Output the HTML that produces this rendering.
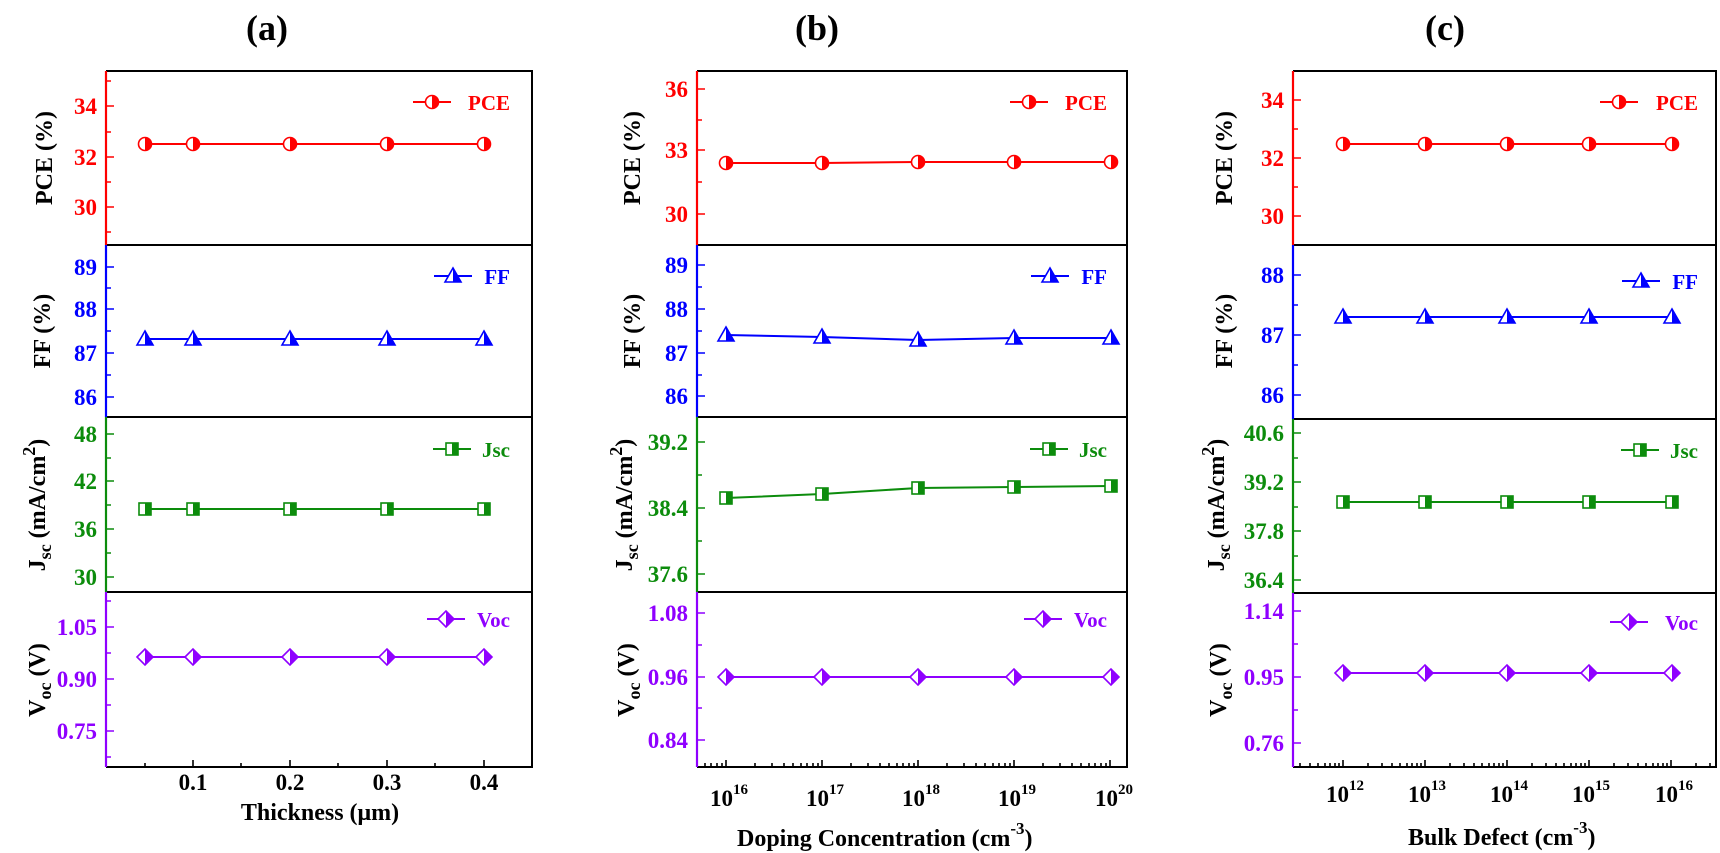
<!DOCTYPE html>
<html><head><meta charset="utf-8"><style>
html,body{margin:0;padding:0;background:#fff;}
svg{display:block;font-family:"Liberation Serif",serif;font-weight:bold;}
</style></head><body>
<svg width="1720" height="853" viewBox="0 0 1720 853" xmlns="http://www.w3.org/2000/svg">
<defs>
<g id="mc"><circle r="6.5" fill="#fff" stroke="currentColor" stroke-width="1.6"/><path d="M0,-6.5A6.5,6.5 0 0 1 0,6.5Z" fill="currentColor"/></g>
<g id="mt"><path d="M-8,6L0,-8L8,6Z" fill="#fff" stroke="currentColor" stroke-width="1.6"/><path d="M0,-8L8,6L0,6Z" fill="currentColor"/></g>
<g id="ms"><rect x="-6" y="-6" width="12" height="12" fill="#fff" stroke="currentColor" stroke-width="1.6"/><rect x="0" y="-6" width="6" height="12" fill="currentColor"/></g>
<g id="md"><path d="M-8,0L0,-8L8,0L0,8Z" fill="#fff" stroke="currentColor" stroke-width="1.6"/><path d="M0,-8L8,0L0,8Z" fill="currentColor"/></g>
<g id="decB" stroke="#000" stroke-width="1.6"><path d="M29,0v-4M46,0v-4M58,0v-4M67,0v-4M75,0v-4M81,0v-4M87,0v-4M92,0v-4M96,0v-7"/></g>
<g id="decC" stroke="#000" stroke-width="1.6"><path d="M25,0v-4M39,0v-4M49,0v-4M57,0v-4M64,0v-4M69,0v-4M74,0v-4M78,0v-4M82,0v-7"/></g>
<clipPath id="cb"><rect x="698" y="700" width="428" height="80"/></clipPath>
<clipPath id="cc"><rect x="1294" y="700" width="421" height="80"/></clipPath>
</defs>

<!-- titles -->
<text x="267" y="40" font-size="36" text-anchor="middle">(a)</text>
<text x="817" y="40" font-size="36" text-anchor="middle">(b)</text>
<text x="1445" y="40" font-size="36" text-anchor="middle">(c)</text>

<!-- ================= PANEL A ================= -->
<g fill="none" stroke="#000" stroke-width="2">
<path d="M106,71H532V767H106M106,245H532M106,417H532M106,592H532"/>
</g>
<g stroke-width="2.2">
<path d="M106,71V245" stroke="#ff0000"/><path d="M106,245V417" stroke="#0000ff"/>
<path d="M106,417V592" stroke="#0c8c0c"/><path d="M106,592V767" stroke="#8f00ff"/>
</g>
<g stroke-width="1.6">
<path stroke="#ff0000" d="M106,106h8M106,157h8M106,207h8M106,81h5M106,132h5M106,182h5M106,232h5"/>
<path stroke="#0000ff" d="M106,267h8M106,309h8M106,353h8M106,397h8M106,288h5M106,331h5M106,375h5"/>
<path stroke="#0c8c0c" d="M106,434h8M106,481h8M106,529h8M106,577h8M106,458h5M106,505h5M106,553h5"/>
<path stroke="#8f00ff" d="M106,627h8M106,679h8M106,731h8M106,601h5M106,653h5M106,705h5M106,757h5"/>
<path stroke="#000" d="M193,767v-7M290,767v-7M387,767v-7M484,767v-7M145,767v-4M241,767v-4M338,767v-4M435,767v-4"/>
</g>
<g font-size="23" text-anchor="end">
<g fill="#ff0000"><text x="97" y="114">34</text><text x="97" y="165">32</text><text x="97" y="215">30</text></g>
<g fill="#0000ff"><text x="97" y="275">89</text><text x="97" y="317">88</text><text x="97" y="361">87</text><text x="97" y="405">86</text></g>
<g fill="#0c8c0c"><text x="97" y="442">48</text><text x="97" y="489">42</text><text x="97" y="537">36</text><text x="97" y="585">30</text></g>
<g fill="#8f00ff"><text x="97" y="635">1.05</text><text x="97" y="687">0.90</text><text x="97" y="739">0.75</text></g>
</g>
<g font-size="23" text-anchor="middle">
<text x="193" y="790">0.1</text><text x="290" y="790">0.2</text><text x="387" y="790">0.3</text><text x="484" y="790">0.4</text>
</g>
<text x="320" y="820" font-size="24" text-anchor="middle">Thickness (μm)</text>
<g font-size="24" text-anchor="middle">
<text transform="translate(52,158) rotate(-90)">PCE (%)</text>
<text transform="translate(50,331) rotate(-90)">FF (%)</text>
<text transform="translate(45,505) rotate(-90)">J<tspan font-size="18" dy="6">sc</tspan><tspan dy="-6"> (mA/cm</tspan><tspan font-size="18" dy="-10">2</tspan><tspan dy="10">)</tspan></text>
<text transform="translate(45,680) rotate(-90)">V<tspan font-size="18" dy="6">oc</tspan><tspan dy="-6"> (V)</tspan></text>
</g>
<g fill="none" stroke-width="2">
<path stroke="#ff0000" d="M145,144H484"/><path stroke="#0000ff" d="M145,339H484"/>
<path stroke="#0c8c0c" d="M145,509H484"/><path stroke="#8f00ff" d="M145,657H484"/>
</g>
<g color="#ff0000"><use href="#mc" x="145" y="144"/><use href="#mc" x="193" y="144"/><use href="#mc" x="290" y="144"/><use href="#mc" x="387" y="144"/><use href="#mc" x="484" y="144"/></g>
<g color="#0000ff"><use href="#mt" x="145" y="339"/><use href="#mt" x="193" y="339"/><use href="#mt" x="290" y="339"/><use href="#mt" x="387" y="339"/><use href="#mt" x="484" y="339"/></g>
<g color="#0c8c0c"><use href="#ms" x="145" y="509"/><use href="#ms" x="193" y="509"/><use href="#ms" x="290" y="509"/><use href="#ms" x="387" y="509"/><use href="#ms" x="484" y="509"/></g>
<g color="#8f00ff"><use href="#md" x="145" y="657"/><use href="#md" x="193" y="657"/><use href="#md" x="290" y="657"/><use href="#md" x="387" y="657"/><use href="#md" x="484" y="657"/></g>
<!-- legends a -->
<g font-size="21" text-anchor="end" stroke-width="2">
<g color="#ff0000" fill="#ff0000"><path d="M413,102h38" stroke="#ff0000"/><use href="#mc" x="432" y="102"/><text x="510" y="110">PCE</text></g>
<g color="#0000ff" fill="#0000ff"><path d="M434,276h38" stroke="#0000ff"/><use href="#mt" x="453" y="276"/><text x="510" y="284">FF</text></g>
<g color="#0c8c0c" fill="#0c8c0c"><path d="M433,449h38" stroke="#0c8c0c"/><use href="#ms" x="452" y="449"/><text x="510" y="457">Jsc</text></g>
<g color="#8f00ff" fill="#8f00ff"><path d="M427,619h38" stroke="#8f00ff"/><use href="#md" x="446" y="619"/><text x="510" y="627">Voc</text></g>
</g>

<!-- ================= PANEL B ================= -->
<g fill="none" stroke="#000" stroke-width="2">
<path d="M697,71H1127V767H697M697,245H1127M697,417H1127M697,592H1127"/>
</g>
<g stroke-width="2.2">
<path d="M697,71V245" stroke="#ff0000"/><path d="M697,245V417" stroke="#0000ff"/>
<path d="M697,417V592" stroke="#0c8c0c"/><path d="M697,592V767" stroke="#8f00ff"/>
</g>
<g stroke-width="1.6">
<path stroke="#ff0000" d="M697,89h8M697,150h8M697,214h8M697,120h5M697,182h5"/>
<path stroke="#0000ff" d="M697,265h8M697,309h8M697,353h8M697,396h8M697,287h5M697,331h5M697,375h5"/>
<path stroke="#0c8c0c" d="M697,442h8M697,508h8M697,574h8M697,475h5M697,541h5"/>
<path stroke="#8f00ff" d="M697,613h8M697,677h8M697,740h8M697,645h5M697,708h5"/>
</g>
<g clip-path="url(#cb)"><use href="#decB" x="630" y="767"/><use href="#decB" x="726" y="767"/><use href="#decB" x="822" y="767"/><use href="#decB" x="918" y="767"/><use href="#decB" x="1014" y="767"/><use href="#decB" x="1110" y="767"/></g>
<g font-size="23" text-anchor="end">
<g fill="#ff0000"><text x="688" y="97">36</text><text x="688" y="158">33</text><text x="688" y="222">30</text></g>
<g fill="#0000ff"><text x="688" y="273">89</text><text x="688" y="317">88</text><text x="688" y="361">87</text><text x="688" y="404">86</text></g>
<g fill="#0c8c0c"><text x="688" y="450">39.2</text><text x="688" y="516">38.4</text><text x="688" y="582">37.6</text></g>
<g fill="#8f00ff"><text x="688" y="621">1.08</text><text x="688" y="685">0.96</text><text x="688" y="748">0.84</text></g>
</g>
<g font-size="23">
<text x="710" y="806">10<tspan font-size="15" dy="-12">16</tspan></text>
<text x="806" y="806">10<tspan font-size="15" dy="-12">17</tspan></text>
<text x="902" y="806">10<tspan font-size="15" dy="-12">18</tspan></text>
<text x="998" y="806">10<tspan font-size="15" dy="-12">19</tspan></text>
<text x="1095" y="806">10<tspan font-size="15" dy="-12">20</tspan></text>
</g>
<text x="737" y="846" font-size="24">Doping Concentration (cm<tspan font-size="17" dy="-12">-3</tspan><tspan dy="12">)</tspan></text>
<g font-size="24" text-anchor="middle">
<text transform="translate(640,158) rotate(-90)">PCE (%)</text>
<text transform="translate(640,331) rotate(-90)">FF (%)</text>
<text transform="translate(632,505) rotate(-90)">J<tspan font-size="18" dy="6">sc</tspan><tspan dy="-6"> (mA/cm</tspan><tspan font-size="18" dy="-10">2</tspan><tspan dy="10">)</tspan></text>
<text transform="translate(634,680) rotate(-90)">V<tspan font-size="18" dy="6">oc</tspan><tspan dy="-6"> (V)</tspan></text>
</g>
<g fill="none" stroke-width="2">
<path stroke="#ff0000" d="M726,163L822,163L918,162L1014,162L1111,162"/>
<path stroke="#0000ff" d="M726,335L822,337L918,340L1014,338L1111,338"/>
<path stroke="#0c8c0c" d="M726,498L822,494L918,488L1014,487L1111,486"/>
<path stroke="#8f00ff" d="M726,677H1111"/>
</g>
<g color="#ff0000"><use href="#mc" x="726" y="163"/><use href="#mc" x="822" y="163"/><use href="#mc" x="918" y="162"/><use href="#mc" x="1014" y="162"/><use href="#mc" x="1111" y="162"/></g>
<g color="#0000ff"><use href="#mt" x="726" y="335"/><use href="#mt" x="822" y="337"/><use href="#mt" x="918" y="340"/><use href="#mt" x="1014" y="338"/><use href="#mt" x="1111" y="338"/></g>
<g color="#0c8c0c"><use href="#ms" x="726" y="498"/><use href="#ms" x="822" y="494"/><use href="#ms" x="918" y="488"/><use href="#ms" x="1014" y="487"/><use href="#ms" x="1111" y="486"/></g>
<g color="#8f00ff"><use href="#md" x="726" y="677"/><use href="#md" x="822" y="677"/><use href="#md" x="918" y="677"/><use href="#md" x="1014" y="677"/><use href="#md" x="1111" y="677"/></g>
<g font-size="21" text-anchor="end" stroke-width="2">
<g color="#ff0000" fill="#ff0000"><path d="M1010,102h38" stroke="#ff0000"/><use href="#mc" x="1029" y="102"/><text x="1107" y="110">PCE</text></g>
<g color="#0000ff" fill="#0000ff"><path d="M1031,276h38" stroke="#0000ff"/><use href="#mt" x="1050" y="276"/><text x="1107" y="284">FF</text></g>
<g color="#0c8c0c" fill="#0c8c0c"><path d="M1030,449h38" stroke="#0c8c0c"/><use href="#ms" x="1049" y="449"/><text x="1107" y="457">Jsc</text></g>
<g color="#8f00ff" fill="#8f00ff"><path d="M1024,619h38" stroke="#8f00ff"/><use href="#md" x="1043" y="619"/><text x="1107" y="627">Voc</text></g>
</g>

<!-- ================= PANEL C ================= -->
<g fill="none" stroke="#000" stroke-width="2">
<path d="M1293,71H1716V767H1293M1293,245H1716M1293,419H1716M1293,593H1716"/>
</g>
<g stroke-width="2.2">
<path d="M1293,71V245" stroke="#ff0000"/><path d="M1293,245V419" stroke="#0000ff"/>
<path d="M1293,419V593" stroke="#0c8c0c"/><path d="M1293,593V767" stroke="#8f00ff"/>
</g>
<g stroke-width="1.6">
<path stroke="#ff0000" d="M1293,100h8M1293,158h8M1293,216h8M1293,129h5M1293,187h5"/>
<path stroke="#0000ff" d="M1293,275h8M1293,335h8M1293,395h8M1293,305h5M1293,365h5"/>
<path stroke="#0c8c0c" d="M1293,433h8M1293,482h8M1293,531h8M1293,580h8M1293,458h5M1293,507h5M1293,556h5"/>
<path stroke="#8f00ff" d="M1293,611h8M1293,677h8M1293,743h8M1293,644h5M1293,710h5"/>
</g>
<g clip-path="url(#cc)"><use href="#decC" x="1261" y="767"/><use href="#decC" x="1343" y="767"/><use href="#decC" x="1425" y="767"/><use href="#decC" x="1507" y="767"/><use href="#decC" x="1589" y="767"/><use href="#decC" x="1671" y="767"/></g>
<g font-size="23" text-anchor="end">
<g fill="#ff0000"><text x="1284" y="108">34</text><text x="1284" y="166">32</text><text x="1284" y="224">30</text></g>
<g fill="#0000ff"><text x="1284" y="283">88</text><text x="1284" y="343">87</text><text x="1284" y="403">86</text></g>
<g fill="#0c8c0c"><text x="1284" y="441">40.6</text><text x="1284" y="490">39.2</text><text x="1284" y="539">37.8</text><text x="1284" y="588">36.4</text></g>
<g fill="#8f00ff"><text x="1284" y="619">1.14</text><text x="1284" y="685">0.95</text><text x="1284" y="751">0.76</text></g>
</g>
<g font-size="23">
<text x="1326" y="802">10<tspan font-size="15" dy="-12">12</tspan></text>
<text x="1408" y="802">10<tspan font-size="15" dy="-12">13</tspan></text>
<text x="1490" y="802">10<tspan font-size="15" dy="-12">14</tspan></text>
<text x="1572" y="802">10<tspan font-size="15" dy="-12">15</tspan></text>
<text x="1655" y="802">10<tspan font-size="15" dy="-12">16</tspan></text>
</g>
<text x="1408" y="845" font-size="24">Bulk Defect (cm<tspan font-size="17" dy="-12">-3</tspan><tspan dy="12">)</tspan></text>
<g font-size="24" text-anchor="middle">
<text transform="translate(1232,158) rotate(-90)">PCE (%)</text>
<text transform="translate(1232,331) rotate(-90)">FF (%)</text>
<text transform="translate(1224,505) rotate(-90)">J<tspan font-size="18" dy="6">sc</tspan><tspan dy="-6"> (mA/cm</tspan><tspan font-size="18" dy="-10">2</tspan><tspan dy="10">)</tspan></text>
<text transform="translate(1226,680) rotate(-90)">V<tspan font-size="18" dy="6">oc</tspan><tspan dy="-6"> (V)</tspan></text>
</g>
<g fill="none" stroke-width="2">
<path stroke="#ff0000" d="M1343,144H1672"/><path stroke="#0000ff" d="M1343,317H1672"/>
<path stroke="#0c8c0c" d="M1343,502H1672"/><path stroke="#8f00ff" d="M1343,673H1672"/>
</g>
<g color="#ff0000"><use href="#mc" x="1343" y="144"/><use href="#mc" x="1425" y="144"/><use href="#mc" x="1507" y="144"/><use href="#mc" x="1589" y="144"/><use href="#mc" x="1672" y="144"/></g>
<g color="#0000ff"><use href="#mt" x="1343" y="317"/><use href="#mt" x="1425" y="317"/><use href="#mt" x="1507" y="317"/><use href="#mt" x="1589" y="317"/><use href="#mt" x="1672" y="317"/></g>
<g color="#0c8c0c"><use href="#ms" x="1343" y="502"/><use href="#ms" x="1425" y="502"/><use href="#ms" x="1507" y="502"/><use href="#ms" x="1589" y="502"/><use href="#ms" x="1672" y="502"/></g>
<g color="#8f00ff"><use href="#md" x="1343" y="673"/><use href="#md" x="1425" y="673"/><use href="#md" x="1507" y="673"/><use href="#md" x="1589" y="673"/><use href="#md" x="1672" y="673"/></g>
<g font-size="21" text-anchor="end" stroke-width="2">
<g color="#ff0000" fill="#ff0000"><path d="M1600,102h38" stroke="#ff0000"/><use href="#mc" x="1619" y="102"/><text x="1698" y="110">PCE</text></g>
<g color="#0000ff" fill="#0000ff"><path d="M1622,281h38" stroke="#0000ff"/><use href="#mt" x="1641" y="281"/><text x="1698" y="289">FF</text></g>
<g color="#0c8c0c" fill="#0c8c0c"><path d="M1621,450h38" stroke="#0c8c0c"/><use href="#ms" x="1640" y="450"/><text x="1698" y="458">Jsc</text></g>
<g color="#8f00ff" fill="#8f00ff"><path d="M1610,622h38" stroke="#8f00ff"/><use href="#md" x="1629" y="622"/><text x="1698" y="630">Voc</text></g>
</g>
</svg>
</body></html>
